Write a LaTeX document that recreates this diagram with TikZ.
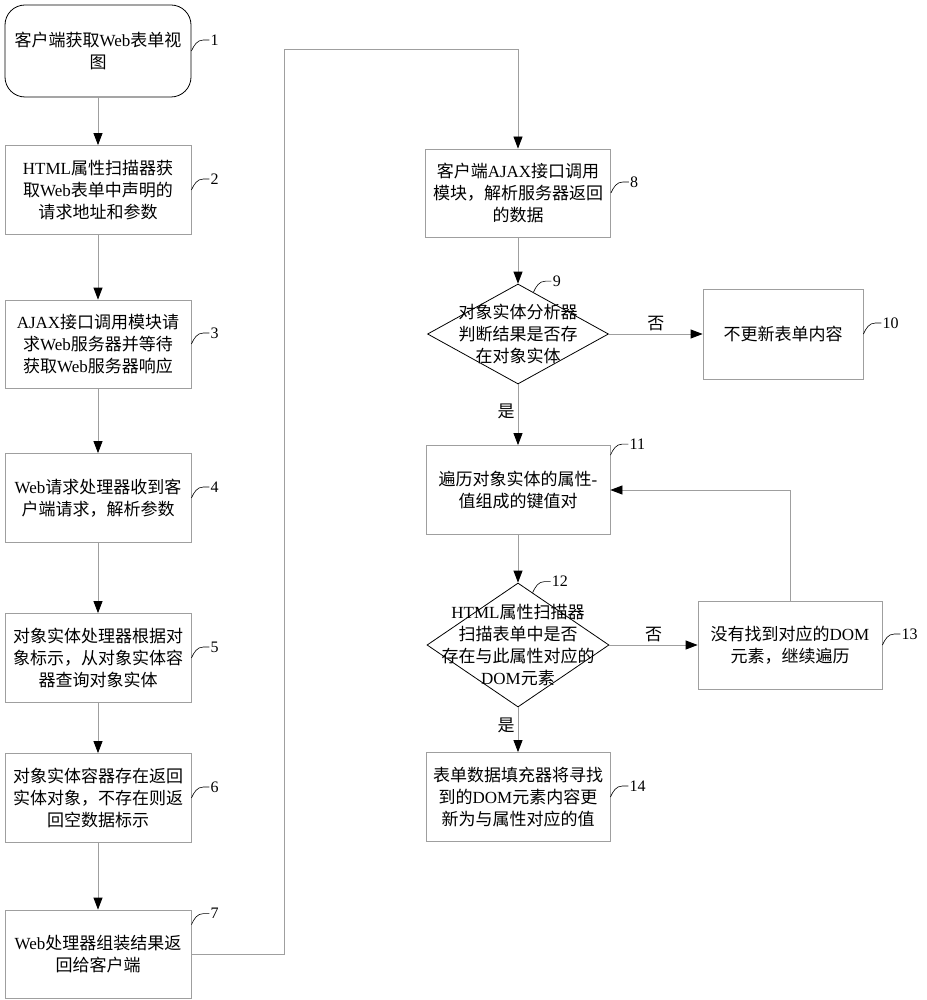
\documentclass[tikz,border=0pt]{standalone}
\usepackage{fontspec}
\setmainfont{Liberation Serif}
\newfontfamily\cjk{Noto Sans CJK SC}
\usetikzlibrary{shapes.geometric,arrows.meta,calc}
\newcommand{\lat}[1]{{\rmfamily #1}}
\tikzset{
  box/.style={draw=gray!75,line width=0.8pt,minimum width=186pt,minimum height=89pt,align=center,inner sep=2pt,font=\cjk\fontsize{17}{22}\selectfont},
  startbox/.style={box,draw=black,rounded corners=20pt,minimum height=92pt},
  decision/.style={diamond,draw=black,line width=0.8pt,minimum width=182pt,inner sep=0pt},
  dtext/.style={align=center,inner sep=0pt,font=\cjk\fontsize{17}{22}\selectfont},
  flow/.style={draw=gray!75,line width=0.8pt,-{Triangle[length=12pt,width=9pt,color=black]}},
  leader/.style={draw=black,line width=0.6pt},
  num/.style={inner sep=1pt,font=\rmfamily\fontsize{16}{18}\selectfont},
  yesno/.style={inner sep=3pt,font=\cjk\fontsize{17}{18}\selectfont}
}
\newcommand{\steplabel}[3]{\draw[leader] (#1) to[out=65,in=180] ++(12,-11) -- ++(6,0) node[num,anchor=west] (#2) {#3};}
\begin{document}
\begin{tikzpicture}[x=1pt,y=-1pt]
\useasboundingbox (0,0) rectangle (926,1000);
% left column
\node[startbox] (b1) at (98,51) {客户端获取\lat{Web}表单视\\图};
\node[box] (b2) at (98,190) {\lat{HTML}属性扫描器获\\取\lat{Web}表单中声明的\\请求地址和参数};
\node[box,minimum height=88pt] (b3) at (98,344) {\lat{AJAX}接口调用模块请\\求\lat{Web}服务器并等待\\获取\lat{Web}服务器响应};
\node[box] (b4) at (98,498) {\lat{Web}请求处理器收到客\\户端请求，解析参数};
\node[box] (b5) at (98,658) {对象实体处理器根据对\\象标示，从对象实体容\\器查询对象实体};
\node[box] (b6) at (98,798) {对象实体容器存在返回\\实体对象，不存在则返\\回空数据标示};
\node[box,minimum height=88pt] (b7) at (98,954) {\lat{Web}处理器组装结果返\\回给客户端};
% right column
\node[box,minimum width=185pt,minimum height=88pt] (b8) at (518,193) {客户端\lat{AJAX}接口调用\\模块，解析服务器返回\\的数据};
\node[decision,minimum width=181pt,minimum height=100pt] (d9) at (518,334) {};
\node[dtext] (t9) at (d9.center) {对象实体分析器\\判断结果是否存\\在对象实体};
\node[box,minimum width=160pt,minimum height=90pt] (b10) at (783,334) {不更新表单内容};
\node[box,minimum width=184pt] (b11) at (518,490) {遍历对象实体的属性\lat{-}\\值组成的键值对};
\node[decision,minimum height=124pt] (d12) at (518,645) {};
\node[dtext] (t12) at (d12.center) {\lat{HTML}属性扫描器\\扫描表单中是否\\存在与此属性对应的\\\lat{DOM}元素};
\node[box,minimum width=184pt,minimum height=88pt] (b13) at (790,645) {没有找到对应的\lat{DOM}\\元素，继续遍历};
\node[box,minimum width=184pt] (b14) at (518,797) {表单数据填充器将寻找\\到的\lat{DOM}元素内容更\\新为与属性对应的值};
% connectors
\foreach \a/\b in {b1/b2,b2/b3,b3/b4,b4/b5,b5/b6,b6/b7,b8/d9,b11/d12}
  \draw[flow] (\a.south) -- (\b.north);
\coordinate (up) at (284,49);
\draw[flow] (b7.east) -| (up) -| (b8.north);
\draw[flow] (d9.east) -- node[yesno,above] (no9) {否} (b10.west);
\draw[flow] (d9.south) -- node[yesno,left,pos=0.45] (yes9) {是} (b11.north);
\draw[flow] (d12.east) -- node[yesno,above] (no12) {否} (b13.west);
\draw[flow] (d12.south) -- node[yesno,left,pos=0.4] (yes12) {是} (b14.north);
\draw[flow] (b13.north) |- (b11.east);
% step numbers
\steplabel{b1.east}{n1}{1}
\steplabel{b2.east}{n2}{2}
\steplabel{b3.east}{n3}{3}
\steplabel{b4.east}{n4}{4}
\steplabel{b5.east}{n5}{5}
\steplabel{b6.east}{n6}{6}
\steplabel{$(b7.north east)+(0,15)$}{n7}{7}
\steplabel{b8.east}{n8}{8}
\steplabel{$(d9.north)!0.17!(d9.east)$}{n9}{9}
\steplabel{b10.east}{n10}{10}
\steplabel{$(b11.north east)+(0,10)$}{n11}{11}
\steplabel{$(d12.north)!0.16!(d12.east)$}{n12}{12}
\steplabel{b13.east}{n13}{13}
\steplabel{b14.east}{n14}{14}
\end{tikzpicture}
\end{document}
